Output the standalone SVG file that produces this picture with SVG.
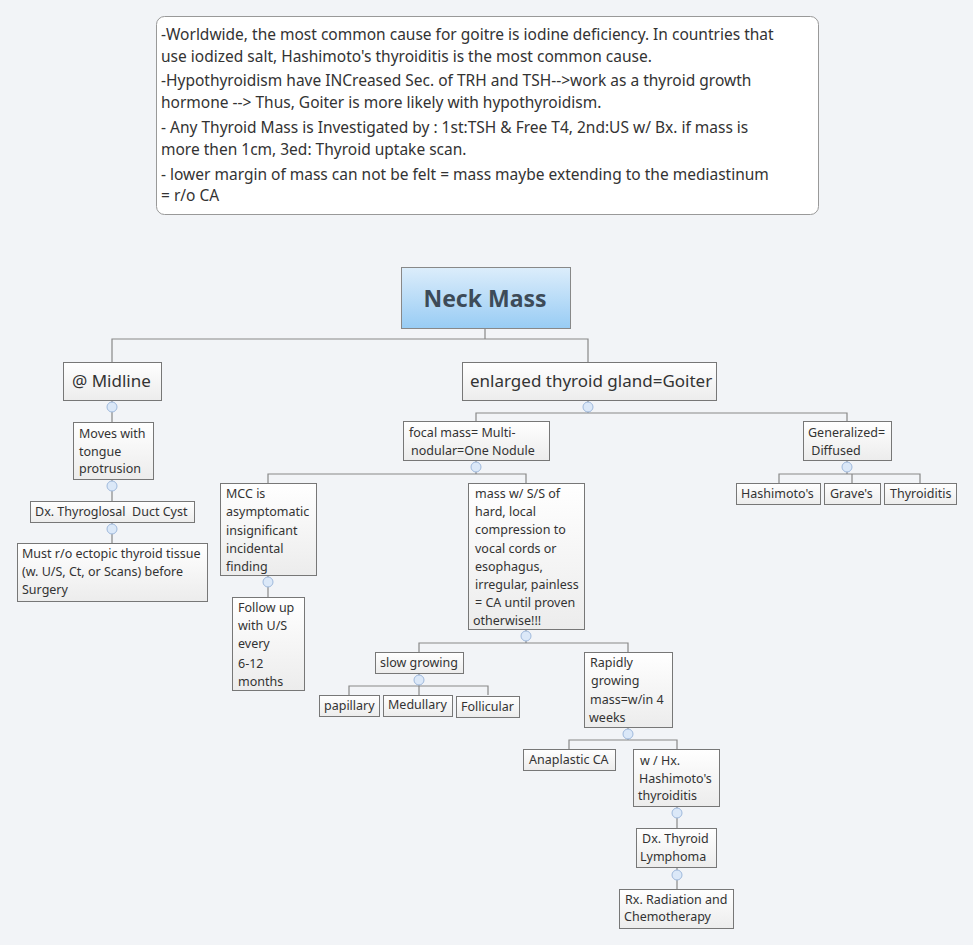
<svg xmlns="http://www.w3.org/2000/svg" width="973" height="945" viewBox="0 0 973 945">
<defs>
<linearGradient id="gn" x1="0" y1="0" x2="0" y2="1"><stop offset="0" stop-color="#ffffff"/><stop offset="1" stop-color="#ececec"/></linearGradient>
<linearGradient id="gr" x1="0" y1="0" x2="0" y2="1"><stop offset="0" stop-color="#dcedfb"/><stop offset="1" stop-color="#98ccf4"/></linearGradient>
<clipPath id="nc"><rect x="157" y="17" width="658" height="196"/></clipPath>
</defs>
<style>
text{font-family:"Noto Sans","Open Sans","DejaVu Sans",sans-serif;fill:#333;font-size:12.5px}
.n{fill:url(#gn);stroke:#777;stroke-width:1}
.b{font-size:17px}
.nt{font-size:15.5px}
.c{fill:#dbe8f8;stroke:#9fb9dc;stroke-width:1}
#connectors path{fill:none;stroke:#888;stroke-width:1.2}
</style>
<rect width="973" height="945" fill="#f2f4f7"/>
<g id="note">
<rect x="156.5" y="16.5" width="662" height="198" rx="8" fill="#fff" stroke="#999"/>
<g clip-path="url(#nc)">
<text class="nt" x="161" y="40">-Worldwide, the most common cause for goitre is iodine deficiency. In countries that</text>
<text class="nt" x="161" y="62">use iodized salt, Hashimoto's thyroiditis is the most common cause.</text>
<text class="nt" x="161" y="86">-Hypothyroidism have INCreased Sec. of TRH and TSH--&gt;work as a thyroid growth</text>
<text class="nt" x="161" y="108">hormone --&gt; Thus, Goiter is more likely with hypothyroidism.</text>
<text class="nt" x="161" y="133">- Any Thyroid Mass is Investigated by : 1st:TSH &amp; Free T4, 2nd:US w/ Bx. if mass is</text>
<text class="nt" x="161" y="155">more then 1cm, 3ed: Thyroid uptake scan.</text>
<text class="nt" x="161" y="180">- lower margin of mass can not be felt = mass maybe extending to the mediastinum</text>
<text class="nt" x="161" y="201">= r/o CA</text>
</g>
</g>
<g id="connectors">
<path d="M485 328V339M112 362V339H588V362"/>
<path d="M112 400V422M112 479V501M112 522V543"/>
<path d="M588 400V413M476 421V413H847V421"/>
<path d="M476 460V474M268 483V474H526V483"/>
<path d="M268 575V597"/>
<path d="M526 629V643M419 652V643H628V652"/>
<path d="M419 673V686M349 695V686H488V695M419 686V695"/>
<path d="M628 727V740M569 749V740H677V749"/>
<path d="M677 806V828M677 867V889"/>
<path d="M847 460V474M779 483V474H920V483M852 474V483"/>
</g>
<g id="root"><rect x="401.5" y="267.5" width="169" height="61" fill="url(#gr)" stroke="#888"/><text x="485" y="307" text-anchor="middle" style="font-size:23px;font-weight:bold;fill:#3d4b58">Neck Mass</text></g>
<g id="midline"><rect class="n" x="63.5" y="362.5" width="98" height="38"/><text class="b" x="72" y="387">@ Midline</text></g>
<g id="goiter"><rect class="n" x="462.5" y="362.5" width="254" height="38"/><text class="b" x="470" y="387">enlarged thyroid gland=Goiter</text></g>
<g id="moves"><rect class="n" x="73.5" y="422.5" width="80" height="57"/><text x="79" y="438">Moves with</text><text x="79" y="456">tongue</text><text x="79" y="473">protrusion</text></g>
<g id="dx1"><rect class="n" x="30.5" y="501.5" width="164" height="21"/><text x="35" y="516" xml:space="preserve">Dx. Thyroglosal  Duct Cyst</text></g>
<g id="must"><rect class="n" x="17.5" y="543.5" width="190" height="58"/><text x="22" y="558">Must r/o ectopic thyroid tissue</text><text x="22" y="576">(w. U/S, Ct, or Scans) before</text><text x="22" y="594">Surgery</text></g>
<g id="focal"><rect class="n" x="403.5" y="421.5" width="146" height="39"/><text x="409" y="437">focal mass= Multi-</text><text x="411" y="455">nodular=One Nodule</text></g>
<g id="mcc"><rect class="n" x="220.5" y="483.5" width="96" height="92"/><text x="226" y="498">MCC is</text><text x="226" y="516">asymptomatic</text><text x="226" y="535">insignificant</text><text x="226" y="553">incidental</text><text x="226" y="571">finding</text></g>
<g id="follow"><rect class="n" x="232.5" y="597.5" width="72" height="93"/><text x="238" y="612">Follow up</text><text x="238" y="630">with U/S</text><text x="238" y="648">every</text><text x="238" y="668">6-12</text><text x="238" y="686">months</text></g>
<g id="masss"><rect class="n" x="468.5" y="483.5" width="116" height="146"/><text x="475" y="498">mass w/ S/S of</text><text x="475" y="516">hard, local</text><text x="475" y="534">compression to</text><text x="475" y="553">vocal cords or</text><text x="475" y="571">esophagus,</text><text x="475" y="589">irregular, painless</text><text x="475" y="607">= CA until proven</text><text x="473" y="625">otherwise!!!</text></g>
<g id="slow"><rect class="n" x="375.5" y="652.5" width="88" height="21"/><text x="380" y="667">slow growing</text></g>
<g id="pap"><rect class="n" x="319.5" y="695.5" width="60" height="21"/><text x="324" y="710">papillary</text></g>
<g id="med"><rect class="n" x="383.5" y="695.5" width="69" height="21"/><text x="388" y="709">Medullary</text></g>
<g id="fol"><rect class="n" x="456.5" y="696.5" width="63" height="21"/><text x="461" y="711">Follicular</text></g>
<g id="rapid"><rect class="n" x="584.5" y="652.5" width="88" height="75"/><text x="590" y="667">Rapidly</text><text x="591" y="685">growing</text><text x="590" y="704">mass=w/in 4</text><text x="589" y="722">weeks</text></g>
<g id="ana"><rect class="n" x="523.5" y="749.5" width="92" height="21"/><text x="529" y="764">Anaplastic CA</text></g>
<g id="hx"><rect class="n" x="633.5" y="749.5" width="86" height="57"/><text x="640" y="765">w / Hx.</text><text x="639" y="783">Hashimoto's</text><text x="638" y="800">thyroiditis</text></g>
<g id="lym"><rect class="n" x="636.5" y="828.5" width="80" height="39"/><text x="642" y="843">Dx. Thyroid</text><text x="640" y="861">Lymphoma</text></g>
<g id="rx"><rect class="n" x="619.5" y="889.5" width="114" height="39"/><text x="625" y="904">Rx. Radiation and</text><text x="624" y="921">Chemotherapy</text></g>
<g id="gen"><rect class="n" x="803.5" y="421.5" width="88" height="39"/><text x="808" y="437">Generalized=</text><text x="808" y="455" xml:space="preserve"> Diffused</text></g>
<g id="hash"><rect class="n" x="736.5" y="483.5" width="84" height="21"/><text x="741" y="498">Hashimoto's</text></g>
<g id="grave"><rect class="n" x="824.5" y="483.5" width="56" height="21"/><text x="830" y="498">Grave's</text></g>
<g id="thy"><rect class="n" x="884.5" y="483.5" width="72" height="21"/><text x="890" y="498">Thyroiditis</text></g>
<g id="toggles">
<circle class="c" cx="112" cy="407" r="5"/><circle class="c" cx="588" cy="407" r="5"/><circle class="c" cx="112" cy="486" r="5"/><circle class="c" cx="112" cy="529" r="5"/>
<circle class="c" cx="476" cy="467" r="5"/><circle class="c" cx="268" cy="582" r="5"/><circle class="c" cx="526" cy="636" r="5"/><circle class="c" cx="419" cy="680" r="5"/>
<circle class="c" cx="628" cy="734" r="5"/><circle class="c" cx="677" cy="813" r="5"/><circle class="c" cx="677" cy="875" r="5"/><circle class="c" cx="847" cy="467" r="5"/>
</g>
</svg>
